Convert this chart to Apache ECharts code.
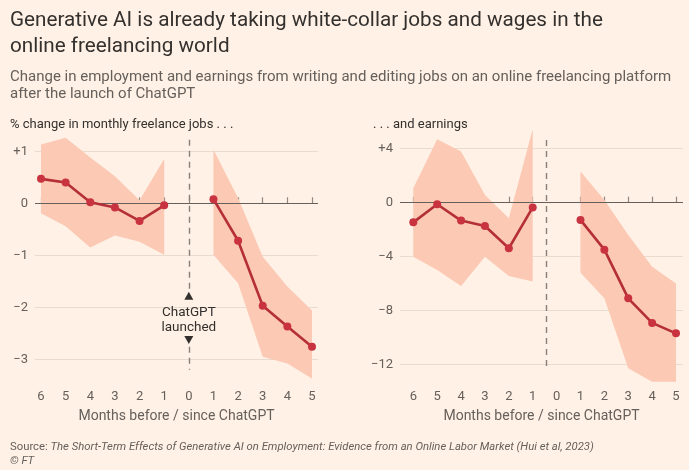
<!DOCTYPE html>
<html>
<head>
<meta charset="utf-8">
<script src="https://cdn.jsdelivr.net/npm/echarts@6/dist/echarts.min.js"></script>
<style>
  html, body { margin: 0; padding: 0; background: #fff1e5; }
  #chart { width: 689px; height: 470px; }
</style>
</head>
<body>
<div id="chart"></div>
<script>
// Months relative to ChatGPT launch (negative = before)
const monthsBefore = [-6, -5, -4, -3, -2, -1]
const monthsAfter = [1, 2, 3, 4, 5]
const xTickLabels = [-6, -5, -4, -3, -2, -1, 0, 1, 2, 3, 4, 5]

// % change in monthly freelance jobs
const jobsBefore = [0.47, 0.40, 0.02, -0.08, -0.34, -0.04]
const jobsBeforeHigh = [1.13, 1.26, 0.88, 0.52, 0.06, 0.85]
const jobsBeforeLow = [-0.19, -0.44, -0.85, -0.62, -0.74, -0.99]
const jobsAfter = [0.08, -0.72, -1.97, -2.37, -2.76]
const jobsAfterHigh = [1.03, 0.10, -1.03, -1.60, -2.06]
const jobsAfterLow = [-0.99, -1.54, -2.95, -3.08, -3.37]

// % change in earnings
const earnBefore = [-1.46, -0.12, -1.33, -1.73, -3.38, -0.35]
const earnBeforeHigh = [1.06, 4.69, 3.78, 0.57, -1.16, 5.43]
const earnBeforeLow = [-4.0, -4.99, -6.17, -4.0, -5.43, -5.85]
const earnAfter = [-1.28, -3.48, -7.09, -8.91, -9.68]
const earnAfterHigh = [2.3, 0.2, -2.4, -4.74, -5.98]
const earnAfterLow = [-5.19, -7.09, -12.27, -13.26, -13.26]

const jobsTicks = [1, 0, -1, -2, -3]
const earnTicks = [4, 0, -4, -8, -12]

const COLORS = {
    bg: '#fff1e5',
    line: '#b52f39',
    dot: '#c8333f',
    band: '#fbc9b4',
    grid: '#eadbcf',
    zero: '#66605c',
    dash: '#85807b',
    text: '#33302e',
    muted: '#66605c'
}
const FONT = "Roboto, 'Liberation Sans', sans-serif"

const signed = v => v > 0 ? '+' + v : v < 0 ? '\u2212' + Math.abs(v) : '0'

function zip(xs, ys) {
    return xs.map((x, i) => [x, ys[i]])
}

// confidence band as one polygon through the library's coordinate system
function bandSeries(idx, xs, hi, lo) {
    return {
        type: 'custom',
        xAxisIndex: idx,
        yAxisIndex: idx,
        silent: true,
        z: 1,
        data: xs.map((x, i) => [x, hi[i], lo[i]]),
        encode: { x: 0, y: [1, 2] },
        renderItem: (params, api) => {
            if (params.dataIndex !== 0) return
            const top = xs.map((x, i) => api.coord([x, hi[i]]))
            const bottom = xs.map((x, i) => api.coord([x, lo[i]])).reverse()
            return {
                type: 'polygon',
                shape: { points: top.concat(bottom) },
                style: { fill: COLORS.band }
            }
        },
        clip: true
    }
}

function lineSeries(idx, xs, ys) {
    return {
        type: 'line',
        xAxisIndex: idx,
        yAxisIndex: idx,
        data: zip(xs, ys),
        symbol: 'circle',
        symbolSize: 8,
        z: 3,
        lineStyle: { color: COLORS.line, width: 2.6 },
        itemStyle: { color: COLORS.dot }
    }
}

const dashStyle = { color: COLORS.dash, width: 1.4, type: [6, 5] }

// launch marker: dashed line split around the label on the left panel
const launchLeft = { x: 0, top: 1.22, gapTop: -1.67, gapBottom: -2.76, bottom: -3.2, arrowUp: -1.78, arrowDown: -2.63, text: -2.24 }
const launchRight = { x: -0.42, top: 4.64, bottom: -12.24 }

// reference lines (zero + launch) sit under the data
function refSeries(idx, dashed, points) {
    return {
        type: 'line',
        xAxisIndex: idx,
        yAxisIndex: idx,
        data: [],
        z: 2,
        silent: true,
        markLine: {
            z: 2,
            silent: true,
            symbol: 'none',
            label: { show: false },
            lineStyle: { color: COLORS.zero, width: 1, type: 'solid' },
            data: [{ yAxis: 0 }].concat(dashed.map(d => [
                { coord: [d[0], d[1]], lineStyle: dashStyle },
                { coord: [d[0], d[2]] }
            ]))
        },
        markPoint: points ? { z: 2, silent: true, data: points } : undefined
    }
}

const chart = echarts.init(document.getElementById('chart'), null, { renderer: 'canvas' })

const xAxisBase = {
    type: 'value',
    axisLine: { show: false },
    splitLine: { show: false },
    axisTick: { show: true, inside: true, length: 6, lineStyle: { color: '#8f8984', width: 1.2 } },
    axisLabel: { color: COLORS.muted, fontSize: 13, fontFamily: FONT, margin: 7, formatter: v => String(Math.abs(v)) },
    name: 'Months before / since ChatGPT',
    nameLocation: 'middle',
    nameGap: 26,
    nameTextStyle: { color: COLORS.muted, fontSize: 14, fontFamily: FONT }
}
const yAxisBase = {
    type: 'value',
    axisLine: { show: false },
    splitLine: { show: true, lineStyle: { color: COLORS.grid, width: 1 } },
    axisLabel: { color: COLORS.muted, fontSize: 13, fontFamily: FONT, margin: 7, formatter: signed }
}

const arrow = (y, rotate) => ({
    coord: [launchLeft.x, y], symbol: 'triangle', symbolRotate: rotate, symbolSize: [9, 8],
    itemStyle: { color: COLORS.text }, label: { show: false }
})

chart.setOption({
    backgroundColor: COLORS.bg,
    animation: false,
    textStyle: { fontFamily: FONT },
    title: [
        {
            text: 'Generative AI is already taking white-collar jobs and wages in the\nonline freelancing world',
            left: 5, top: 3,
            textStyle: { fontSize: 20.7, fontWeight: 'normal', color: COLORS.text, lineHeight: 26, fontFamily: FONT }
        },
        {
            text: 'Change in employment and earnings from writing and editing jobs on an online freelancing platform\nafter the launch of ChatGPT',
            left: 5, top: 64,
            textStyle: { fontSize: 15, fontWeight: 'normal', color: COLORS.muted, lineHeight: 17, fontFamily: FONT }
        },
        {
            text: '% change in monthly freelance jobs . . .',
            left: 5, top: 113,
            textStyle: { fontSize: 13, fontWeight: 'normal', color: COLORS.text, fontFamily: FONT }
        },
        {
            text: '. . . and earnings',
            left: 368, top: 113,
            textStyle: { fontSize: 13, fontWeight: 'normal', color: COLORS.text, fontFamily: FONT }
        },
        {
            text: 'Source: {i|The Short-Term Effects of Generative AI on Employment: Evidence from an Online Labor Market (Hui et al, 2023)}\n{i|\u00a9 FT}',
            left: 5, top: 435,
            textStyle: {
                fontSize: 11.3, fontWeight: 'normal', color: COLORS.muted, lineHeight: 14, fontFamily: FONT,
                rich: { i: { fontStyle: 'italic', fontSize: 11.3, color: COLORS.muted, lineHeight: 14, fontFamily: FONT } }
            }
        }
    ],
    grid: [
        { left: 35, top: 128, width: 283, height: 255 },
        { left: 400, top: 128, width: 283, height: 255 }
    ],
    xAxis: [
        Object.assign({}, xAxisBase, {
            gridIndex: 0, min: -6.244, max: 5.244,
            axisTick: Object.assign({}, xAxisBase.axisTick, { customValues: xTickLabels }),
            axisLabel: Object.assign({}, xAxisBase.axisLabel, { customValues: xTickLabels })
        }),
        Object.assign({}, xAxisBase, {
            gridIndex: 1, min: -6.557, max: 5.293,
            axisTick: Object.assign({}, xAxisBase.axisTick, { customValues: xTickLabels.filter(v => v !== 0) }),
            axisLabel: Object.assign({}, xAxisBase.axisLabel, { customValues: xTickLabels })
        })
    ],
    yAxis: [
        Object.assign({}, yAxisBase, {
            gridIndex: 0, min: -3.456, max: 1.448,
            axisTick: { show: false, customValues: jobsTicks },
            axisLabel: Object.assign({}, yAxisBase.axisLabel, { customValues: jobsTicks })
        }),
        Object.assign({}, yAxisBase, {
            gridIndex: 1, min: -13.36, max: 5.53,
            axisTick: { show: false, customValues: earnTicks },
            axisLabel: Object.assign({}, yAxisBase.axisLabel, { customValues: earnTicks })
        })
    ],
    series: [
        bandSeries(0, monthsBefore, jobsBeforeHigh, jobsBeforeLow),
        bandSeries(0, monthsAfter, jobsAfterHigh, jobsAfterLow),
        bandSeries(1, monthsBefore, earnBeforeHigh, earnBeforeLow),
        bandSeries(1, monthsAfter, earnAfterHigh, earnAfterLow),
        refSeries(0, [
            [launchLeft.x, launchLeft.top, launchLeft.gapTop],
            [launchLeft.x, launchLeft.gapBottom, launchLeft.bottom]
        ], [
            arrow(launchLeft.arrowUp, 0),
            arrow(launchLeft.arrowDown, 180),
            {
                coord: [launchLeft.x, launchLeft.text], symbol: 'rect', symbolSize: 2,
                itemStyle: { color: 'rgba(0,0,0,0)' },
                label: {
                    show: true, position: 'inside', formatter: 'ChatGPT\nlaunched',
                    color: COLORS.text, fontSize: 13.5, lineHeight: 15, fontFamily: FONT, align: 'center'
                }
            }
        ]),
        refSeries(1, [[launchRight.x, launchRight.top, launchRight.bottom]]),
        lineSeries(0, monthsBefore, jobsBefore),
        lineSeries(0, monthsAfter, jobsAfter),
        lineSeries(1, monthsBefore, earnBefore),
        lineSeries(1, monthsAfter, earnAfter)
    ]
})
</script>
</body>
</html>
